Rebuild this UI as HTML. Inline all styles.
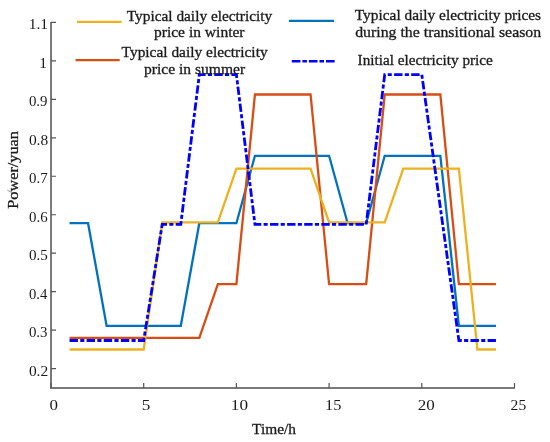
<!DOCTYPE html>
<html><head><meta charset="utf-8"><style>
html,body{margin:0;padding:0;background:#fff;width:550px;height:442px;overflow:hidden}
svg{display:block}
</style></head><body>
<svg width="550" height="442" viewBox="0 0 550 442">
<rect width="550" height="442" fill="#fff"/>
<path d="M51.0,21.9 V388 H515.0" stroke="#7a7a7a" fill="none" stroke-width="2"/>
<path d="M51.0,368.60 h5 M51.0,330.14 h5 M51.0,291.67 h5 M51.0,253.20 h5 M51.0,214.74 h5 M51.0,176.27 h5 M51.0,137.80 h5 M51.0,99.33 h5 M51.0,60.87 h5 M51.0,22.40 h5 M51.00,388 v-5 M143.70,388 v-5 M236.40,388 v-5 M329.10,388 v-5 M421.80,388 v-5 M514.50,388 v-5" stroke="#555" stroke-width="1.2" fill="none"/>
<polyline points="69.54,223.20 88.08,223.20 106.62,325.90 125.16,325.90 143.70,325.90 162.24,325.90 180.78,325.90 199.32,223.20 217.86,223.20 236.40,223.20 254.94,155.80 273.48,155.80 292.02,155.80 310.56,155.80 329.10,155.80 347.64,223.20 366.18,223.20 384.72,155.80 403.26,155.80 421.80,155.80 440.34,155.80 458.88,325.90 477.42,325.90 495.96,325.90" fill="none" stroke="#0072BD" stroke-width="2.3"/>
<polyline points="69.54,337.90 88.08,337.90 106.62,337.90 125.16,337.90 143.70,337.90 162.24,337.90 180.78,337.90 199.32,337.90 217.86,284.10 236.40,284.10 254.94,94.50 273.48,94.50 292.02,94.50 310.56,94.50 329.10,284.10 347.64,284.10 366.18,284.10 384.72,94.50 403.26,94.50 421.80,94.50 440.34,94.50 458.88,284.10 477.42,284.10 495.96,284.10" fill="none" stroke="#D84D14" stroke-width="2.3"/>
<polyline points="69.54,349.50 88.08,349.50 106.62,349.50 125.16,349.50 143.70,349.50 162.24,222.30 180.78,222.30 199.32,222.30 217.86,222.30 236.40,168.70 254.94,168.70 273.48,168.70 292.02,168.70 310.56,168.70 329.10,222.30 347.64,222.30 366.18,222.30 384.72,222.30 403.26,168.70 421.80,168.70 440.34,168.70 458.88,168.70 477.42,349.50 495.96,349.50" fill="none" stroke="#EDB120" stroke-width="2.3"/>
<polyline points="69.54,340.50 88.08,340.50 106.62,340.50 125.16,340.50 143.70,340.50 162.24,224.40 180.78,224.40 199.32,74.60 217.86,74.60 236.40,74.60 254.94,224.40 273.48,224.40 292.02,224.40 310.56,224.40 329.10,224.40 347.64,224.40 366.18,224.40 384.72,74.60 403.26,74.60 421.80,74.60 440.34,207.55 458.88,340.50 477.42,340.50 495.96,340.50" fill="none" stroke="#0000FF" stroke-width="2.8" stroke-dasharray="8.4 2.3 4.1 2.3"/>
<path d="M77,21.8 H121.7" stroke="#EDB120" stroke-width="2.2"/>
<path d="M75.5,60.1 H119.7" stroke="#D84D14" stroke-width="2.2"/>
<path d="M288.9,20.9 H334" stroke="#0072BD" stroke-width="2.2"/>
<path d="M291.8,61.2 H334.6" stroke="#0000FF" stroke-width="2.6" stroke-dasharray="8.6 2 4.5 2"/>
<g font-family='"Liberation Serif", "DejaVu Serif", serif' fill="#1a1a1a" stroke="#1a1a1a" stroke-width="0.3">
<text transform="translate(126.75,20.50) scale(1.0104,1)" font-size="15.2">Typical daily electricity</text>
<text transform="translate(153.97,37.30) scale(1.0226,1)" font-size="15.2">price in winter</text>
<text transform="translate(121.62,56.80) scale(1.0132,1)" font-size="15.2">Typical daily electricity</text>
<text transform="translate(143.93,73.50) scale(1.0255,1)" font-size="15.2">price in summer</text>
<text transform="translate(354.79,20.20) scale(1.0119,1)" font-size="15.2">Typical daily electricity prices</text>
<text transform="translate(355.15,36.90) scale(1.0424,1)" font-size="15.2">during the transitional season</text>
<text transform="translate(357.61,65.40) scale(1.0022,1)" font-size="15.2">Initial electricity price</text>
<text transform="translate(252.07,434.00) scale(1.0136,1)" font-size="15.2">Time/h</text>
<text transform="translate(17.90,208.66) rotate(-90) scale(1.0690,1)" font-size="15.2">Power/yuan</text>
<text transform="translate(49.45,410.00) scale(1.0946,1)" font-size="15.5" stroke-width="0">0</text>
<text transform="translate(141.74,410.00) scale(1.1078,1)" font-size="15.5" stroke-width="0">5</text>
<text transform="translate(230.81,410.00) scale(1.1113,1)" font-size="15.5" stroke-width="0">10</text>
<text transform="translate(324.99,410.00) scale(1.0552,1)" font-size="15.5" stroke-width="0">15</text>
<text transform="translate(417.68,410.00) scale(1.0954,1)" font-size="15.5" stroke-width="0">20</text>
<text transform="translate(510.61,410.00) scale(1.0070,1)" font-size="15.5" stroke-width="0">25</text>
<text transform="translate(28.90,375.60) scale(0.9952,1)" font-size="15.5" stroke-width="0">0.2</text>
<text transform="translate(28.93,337.14) scale(0.9607,1)" font-size="15.5" stroke-width="0">0.3</text>
<text transform="translate(29.04,298.67) scale(0.9458,1)" font-size="15.5" stroke-width="0">0.4</text>
<text transform="translate(28.94,260.20) scale(0.9736,1)" font-size="15.5" stroke-width="0">0.5</text>
<text transform="translate(29.03,221.74) scale(0.9616,1)" font-size="15.5" stroke-width="0">0.6</text>
<text transform="translate(29.02,183.27) scale(0.9603,1)" font-size="15.5" stroke-width="0">0.7</text>
<text transform="translate(28.90,144.80) scale(0.9952,1)" font-size="15.5" stroke-width="0">0.8</text>
<text transform="translate(28.92,106.33) scale(0.9610,1)" font-size="15.5" stroke-width="0">0.9</text>
<text transform="translate(39.36,67.87) scale(1.0000,1)" font-size="15.5" stroke-width="0">1</text>
<text transform="translate(28.68,29.40) scale(1.0000,1)" font-size="15.5" stroke-width="0">1.1</text>
</g>
<path d="M7.3,190.2 L13.6,193.5" stroke="#666" stroke-width="0.7" fill="none"/>
</svg>
</body></html>
